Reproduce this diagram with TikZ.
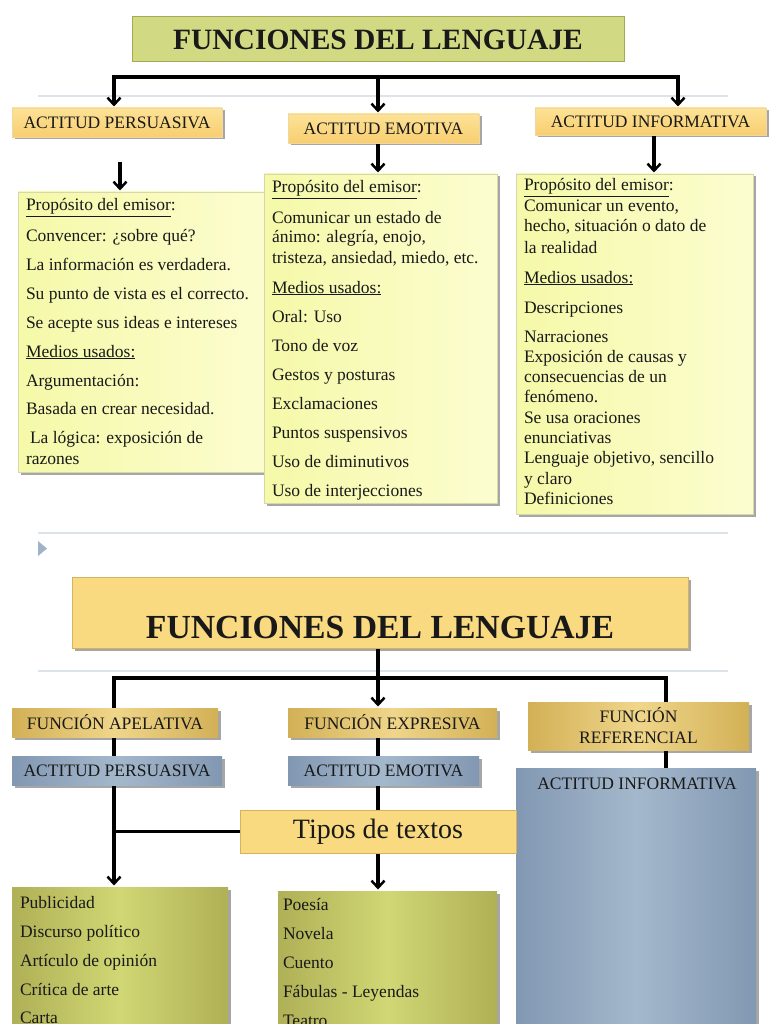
\documentclass[tikz,border=0pt]{standalone}
\usepackage{fontspec}
\setmainfont{Liberation Serif}
\usetikzlibrary{arrows.meta,shadows,backgrounds}
\definecolor{txt}{RGB}{25,25,25}
\definecolor{sepc}{RGB}{221,227,234}
\definecolor{tric}{RGB}{159,180,200}
\definecolor{olv}{RGB}{209,217,130}
\definecolor{olvB}{RGB}{165,168,85}
\definecolor{orT}{RGB}{253,226,150}
\definecolor{orBo}{RGB}{248,206,112}
\definecolor{orB}{RGB}{240,215,160}
\definecolor{yL}{RGB}{245,249,168}
\definecolor{yR}{RGB}{252,253,208}
\definecolor{yB}{RGB}{215,215,170}
\definecolor{ttl}{RGB}{249,218,128}
\definecolor{ttlB}{RGB}{212,178,95}
\definecolor{gE}{RGB}{210,176,86}
\definecolor{gM}{RGB}{240,214,138}
\definecolor{bE}{RGB}{130,152,178}
\definecolor{bM}{RGB}{164,184,204}
\definecolor{oE}{RGB}{176,176,86}
\definecolor{oM}{RGB}{208,215,116}
\newcommand\myBody{\fontsize{17.5}{20.5}\selectfont}
\newcommand\myLbl{\fontsize{17.5}{21}\selectfont}
\newcommand\myTitleA{\fontsize{29.5}{30}\selectfont\bfseries}
\newcommand\myTitleB{\fontsize{33.7}{34}\selectfont\bfseries}
\tikzset{
  every node/.style={inner sep=0pt, outer sep=0pt, text=txt},
  box/.style={rectangle, anchor=north west, inner sep=0pt},
  shad/.style={drop shadow={shadow xshift=2.5pt,shadow yshift=-2.5pt,opacity=0.35,fill=black}},
  ttlA/.style={box, fill=olv, draw=olvB, line width=1pt, font=\myTitleA},
  ttlB/.style={box, fill=ttl, draw=ttlB, line width=1pt, shad},
  lbl/.style={box, shad, top color=orT, bottom color=orBo, draw=orB, line width=0.6pt, font=\myLbl},
  gold/.style={box, shad, left color=gE, right color=gE, middle color=gM, font=\myLbl, align=center},
  blue/.style={box, shad, left color=bE, right color=bE, middle color=bM, font=\myLbl},
  ybox/.style={box, shad, left color=yL, right color=yR, draw=yB, line width=0.5pt,
    path picture={\draw[line width=2.5pt, black!75] (path picture bounding box.north west) -- (path picture bounding box.south west);}},
  obox/.style={box, shad, left color=oE, right color=oE, middle color=oM},
  tline/.style={anchor=base west, font=\myBody},
  ln/.style={line width=3.5pt, black},
  arr/.style={ln, -{Straight Barb[length=7pt,width=13pt,line width=2.5pt]}, shorten >=1.5pt},
  arrB/.style={ln, {Straight Barb[length=7pt,width=13pt,line width=2.5pt]}-{Straight Barb[length=7pt,width=13pt,line width=2.5pt]}, shorten >=1.5pt, shorten <=1.5pt},
  arrS/.style={ln, {Straight Barb[length=7pt,width=13pt,line width=2.5pt]}-, shorten <=1.5pt}
}
\begin{document}
\begin{tikzpicture}[x=1pt,y=-1pt]
\useasboundingbox (0,0) rectangle (768,1024);

% ---------- upper diagram ----------
\node[ttlA, minimum width=492pt, minimum height=45pt] (title1) at (132,17) {FUNCIONES DEL LENGUAJE};

\node[lbl, minimum width=210pt, minimum height=29pt] (ap) at (12,108) {ACTITUD PERSUASIVA};
\node[lbl, minimum width=191pt, minimum height=29pt] (ae) at (288,114) {ACTITUD EMOTIVA};
\node[lbl, minimum width=231pt, minimum height=27pt] (ai) at (535,108) {ACTITUD INFORMATIVA};

\node[ybox, minimum width=252pt, minimum height=280pt] (tb1) at (18,192) {};
\foreach \y/\t [count=\i] in {
  211/{\underline{Propósito del emisor}:},
  241/{Convencer: ¿sobre qué?},
  270/{La información es verdadera.},
  299/{Su punto de vista es el correcto.},
  328/{Se acepte sus ideas e intereses},
  357/{\underline{Medios usados:}},
  386/{Argumentación:},
  414/{Basada en crear necesidad.},
  443/{\hspace{4pt}La lógica: exposición de},
  464/{razones}}
  \node[tline] (ta\i) at (26,\y) {\t};

\node[ybox, minimum width=233pt, minimum height=329pt] (tb2) at (264,174) {};
\foreach \y/\t [count=\i] in {
  193/{\underline{Propósito del emisor}:},
  223/{Comunicar un estado de},
  243/{ánimo: alegría, enojo,},
  263/{tristeza, ansiedad, miedo, etc.},
  293/{\underline{Medios usados:}},
  322/{Oral: Uso},
  351/{Tono de voz},
  380/{Gestos y posturas},
  409/{Exclamaciones},
  438/{Puntos suspensivos},
  467/{Uso de diminutivos},
  496/{Uso de interjecciones}}
  \node[tline] (tm\i) at (272,\y) {\t};

\node[ybox, minimum width=237pt, minimum height=340pt] (tb3) at (516,174) {};
\foreach \y/\t [count=\i] in {
  191/{\underline{Propósito del emisor}:},
  212/{Comunicar un evento,},
  232/{hecho, situación o dato de},
  253/{la realidad},
  283/{\underline{Medios usados:}},
  313/{Descripciones},
  342/{Narraciones},
  362/{Exposición de causas y},
  382/{consecuencias de un},
  402/{fenómeno.},
  423/{Se usa oraciones},
  443/{enunciativas},
  463/{Lenguaje objetivo, sencillo},
  484/{y claro},
  504/{Definiciones}}
  \node[tline] (tr\i) at (524,\y) {\t};

\coordinate (tL) at (114,77);
\coordinate (tM) at (378,77);
\coordinate (tR) at (678,77);
\coordinate (pA) at (120,162);
\coordinate (qR) at (654,138);

% ---------- lower diagram ----------
\node[ttlB, minimum width=616pt, minimum height=71pt] (title2) at (72,577) {};
\node[anchor=base, font=\myTitleB] (title2t) at (380,638) {FUNCIONES DEL LENGUAJE};

\node[gold, minimum width=206pt, minimum height=29pt] (fa) at (12,708) {FUNCIÓN APELATIVA};
\node[gold, minimum width=209pt, minimum height=29pt] (fe) at (288,708) {FUNCIÓN EXPRESIVA};
\node[gold, minimum width=221pt, minimum height=48pt] (fr) at (528,702) {FUNCIÓN\\REFERENCIAL};

\node[blue, minimum width=210pt, minimum height=29pt] (pa) at (12,756) {ACTITUD PERSUASIVA};
\node[blue, minimum width=191pt, minimum height=29pt] (pe) at (288,756) {ACTITUD EMOTIVA};
\node[blue, minimum width=240pt, minimum height=280pt] (pi) at (516,768) {};
\node[anchor=base, font=\myLbl] (pit) at (637,789) {ACTITUD INFORMATIVA};

\node[box, fill=ttl, draw=ttlB, line width=0.6pt, minimum width=276pt, minimum height=43pt,
      font=\fontsize{28}{30}\selectfont] (tt) at (240,810) {Tipos de textos};

\node[obox, minimum width=216pt, minimum height=160pt] (l1) at (12,887) {};
\foreach \y/\t [count=\i] in {
  908/{Publicidad},
  937/{Discurso político},
  966/{Artículo de opinión},
  995/{Crítica de arte},
  1023/{Carta}}
  \node[tline] (la\i) at (20,\y) {\t};

\node[obox, minimum width=219pt, minimum height=160pt] (l2) at (278,891) {};
\foreach \y/\t [count=\i] in {
  910/{Poesía},
  939/{Novela},
  968/{Cuento},
  997/{Fábulas - Leyendas},
  1026/{Teatro}}
  \node[tline] (lb\i) at (283,\y) {\t};

\coordinate (bL) at (114,678);
\coordinate (bM) at (378,678);
\coordinate (bR) at (666,678);

% ---------- background: separators and connectors ----------
\begin{scope}[on background layer]
  \fill[white] (0,0) rectangle (768,1024);
  \draw[sepc, line width=2pt] (38,96) -- (728,96);
  \draw[sepc, line width=2pt] (38,533) -- (728,533);
  \draw[sepc, line width=2pt] (38,671) -- (728,671);
  \fill[tric] (38,541) -- (47,548.5) -- (38,556) -- cycle;

  \draw[arrB] (tL |- ap.north) -- (tL) -- (tR) -- (tR |- ai.north);
  \draw[arr] (tM) -- (tM |- ae.north);
  \draw[arr] (pA) -- (pA |- tb1.north);
  \draw[arr] (tM |- ae.south) -- (tM |- tb2.north);
  \draw[arr] (qR |- ai.south) -- (qR |- tb3.north);

  \draw[arrS] (bL |- l1.north) -- (bL) -- (bR) -- (bR |- pi.north);
  \draw[arr] (bM |- title2.south) -- (bM |- fe.north);
  \draw[arr] (bM |- fe.south) -- (bM |- l2.north);
  \draw[ln] (bL |- tt.west) -- (tt.west);
\end{scope}
\end{tikzpicture}
\end{document}
